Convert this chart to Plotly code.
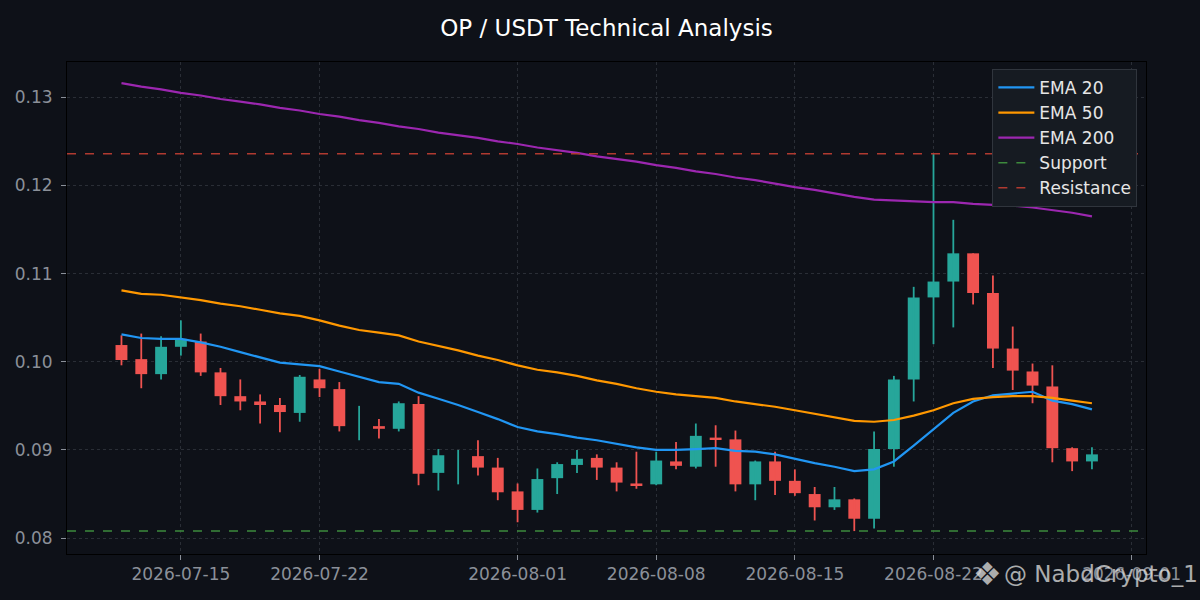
import pandas as pd
import plotly.graph_objects as go

# daily candles, 2026-07-12 .. 2026-08-30
dates = pd.date_range("2026-07-12", periods=50, freq="D")

opens = [0.1019, 0.1003, 0.0986, 0.1017, 0.1023, 0.0988, 0.0961, 0.0955, 0.0951, 0.0942,
         0.0980, 0.0969, 0.0927, 0.0927, 0.0924, 0.0952, 0.0874, 0.0880, 0.0893, 0.0880,
         0.0853, 0.0832, 0.0868, 0.0883, 0.0891, 0.0880, 0.0862, 0.0861, 0.0887, 0.0881,
         0.0914, 0.0912, 0.0861, 0.0887, 0.0865, 0.0850, 0.0835, 0.0844, 0.0822, 0.0901,
         0.0980, 0.1073, 0.1091, 0.1123, 0.1078, 0.1015, 0.0989, 0.0972, 0.0902, 0.0887]
highs = [0.1030, 0.1032, 0.1029, 0.1047, 0.1032, 0.0993, 0.0980, 0.0963, 0.0959, 0.0985,
         0.0992, 0.0977, 0.0950, 0.0935, 0.0955, 0.0961, 0.0901, 0.0900, 0.0911, 0.0891,
         0.0862, 0.0879, 0.0886, 0.0900, 0.0895, 0.0886, 0.0898, 0.0898, 0.0909, 0.0930,
         0.0928, 0.0922, 0.0888, 0.0898, 0.0878, 0.0858, 0.0858, 0.0845, 0.0921, 0.0984,
         0.1085, 0.1236, 0.1161, 0.1123, 0.1098, 0.1040, 0.0998, 0.0996, 0.0903, 0.0903]
lows = [0.0996, 0.0970, 0.0980, 0.1007, 0.0984, 0.0951, 0.0945, 0.0930, 0.0920, 0.0932,
        0.0960, 0.0921, 0.0911, 0.0913, 0.0921, 0.0860, 0.0854, 0.0861, 0.0871, 0.0843,
        0.0818, 0.0829, 0.0850, 0.0874, 0.0866, 0.0853, 0.0856, 0.0860, 0.0878, 0.0879,
        0.0881, 0.0853, 0.0843, 0.0849, 0.0848, 0.0820, 0.0832, 0.0808, 0.0811, 0.0881,
        0.0955, 0.1020, 0.1039, 0.1065, 0.0993, 0.0968, 0.0953, 0.0886, 0.0876, 0.0878]
closes = [0.1002, 0.0986, 0.1017, 0.1026, 0.0988, 0.0961, 0.0955, 0.0951, 0.0943, 0.0983,
          0.0970, 0.0927, 0.0927, 0.0924, 0.0953, 0.0873, 0.0894, 0.0880, 0.0880, 0.0852,
          0.0832, 0.0867, 0.0884, 0.0890, 0.0880, 0.0863, 0.0860, 0.0888, 0.0882, 0.0916,
          0.0912, 0.0861, 0.0887, 0.0865, 0.0851, 0.0835, 0.0844, 0.0822, 0.0901, 0.0980,
          0.1073, 0.1091, 0.1123, 0.1078, 0.1015, 0.0990, 0.0973, 0.0902, 0.0887, 0.0895]

ema20 = [0.1031, 0.1027, 0.1026, 0.1026, 0.1022, 0.1017, 0.1011, 0.1005, 0.0999, 0.0997,
         0.0995, 0.0989, 0.0983, 0.0977, 0.0975, 0.0965, 0.0958, 0.0951, 0.0943, 0.0935,
         0.0926, 0.0921, 0.0918, 0.0914, 0.0911, 0.0907, 0.0903, 0.0900, 0.0900, 0.0901,
         0.0902, 0.0899, 0.0898, 0.0895, 0.0890, 0.0885, 0.0881, 0.0876, 0.0878, 0.0887,
         0.0905, 0.0924, 0.0942, 0.0955, 0.0962, 0.0964, 0.0966, 0.0956, 0.0952, 0.0946]
ema50 = [0.1081, 0.1077, 0.1076, 0.1073, 0.1070, 0.1066, 0.1063, 0.1059, 0.1055, 0.1052,
         0.1047, 0.1041, 0.1036, 0.1033, 0.1030, 0.1023, 0.1018, 0.1013, 0.1007, 0.1002,
         0.0996, 0.0991, 0.0988, 0.0984, 0.0979, 0.0975, 0.0970, 0.0966, 0.0963, 0.0961,
         0.0959, 0.0955, 0.0952, 0.0949, 0.0945, 0.0941, 0.0937, 0.0933, 0.0932, 0.0934,
         0.0939, 0.0945, 0.0953, 0.0958, 0.0960, 0.0961, 0.0961, 0.0959, 0.0956, 0.0953]
ema200 = [0.1316, 0.1312, 0.1309, 0.1305, 0.1302, 0.1298, 0.1295, 0.1292, 0.1288, 0.1285,
          0.1281, 0.1278, 0.1274, 0.1271, 0.1267, 0.1264, 0.1260, 0.1257, 0.1254, 0.1250,
          0.1247, 0.1243, 0.1240, 0.1237, 0.1233, 0.1230, 0.1227, 0.1223, 0.1220, 0.1216,
          0.1213, 0.1209, 0.1206, 0.1202, 0.1198, 0.1195, 0.1191, 0.1187, 0.1184, 0.1183,
          0.1182, 0.1181, 0.1181, 0.1179, 0.1178, 0.1177, 0.1175, 0.1172, 0.1169, 0.1165]

support = 0.0808
resistance = 0.1236

x_ticks = ["2026-07-15", "2026-07-22", "2026-08-01", "2026-08-08",
           "2026-08-15", "2026-08-22", "2026-09-01"]

UP = "#26a69a"
DOWN = "#ef5350"
BG = "#0e1118"
TICK = "#8b9099"
FONT = "DejaVu Sans"

fig = go.Figure()

# candle bodies
is_up = [c >= o for o, c in zip(opens, closes)]
body_base = [min(o, c) for o, c in zip(opens, closes)]
body_h = [abs(c - o) for o, c in zip(opens, closes)]
fig.add_trace(go.Bar(
    x=dates, y=body_h, base=body_base,
    width=0.6 * 86400000,
    marker=dict(color=[UP if u else DOWN for u in is_up], line=dict(width=0)),
    showlegend=False, hoverinfo="skip",
))

# wicks, one trace per colour
for flag, col in [(True, UP), (False, DOWN)]:
    wx, wy = [], []
    for d, h, l, u in zip(dates, highs, lows, is_up):
        if u == flag:
            wx += [d, d, None]
            wy += [l, h, None]
    fig.add_trace(go.Scatter(x=wx, y=wy, mode="lines",
                             line=dict(color=col, width=1.8),
                             showlegend=False, hoverinfo="skip"))

fig.add_trace(go.Scatter(x=dates, y=ema20, mode="lines", name="EMA 20",
                         line=dict(color="#2196f3", width=2.2)))
fig.add_trace(go.Scatter(x=dates, y=ema50, mode="lines", name="EMA 50",
                         line=dict(color="#ff9800", width=2.2)))
fig.add_trace(go.Scatter(x=dates, y=ema200, mode="lines", name="EMA 200",
                         line=dict(color="#9c27b0", width=2.2)))

# horizontal levels + legend entries
for lvl, col, nm in [(support, "#3d8a3d", "Support"), (resistance, "#b03a30", "Resistance")]:
    fig.add_hline(y=lvl, line=dict(color=col, width=1.5, dash="dash"))
    fig.add_trace(go.Scatter(x=[None], y=[None], mode="lines", name=nm,
                             line=dict(color=col, width=1.5, dash="dash")))

fig.update_layout(
    width=1200, height=600,
    paper_bgcolor=BG, plot_bgcolor=BG,
    margin=dict(l=67, r=54, t=62, b=46),
    barmode="overlay",
    font=dict(family=FONT, color=TICK, size=17),
    title=dict(text="OP / USDT Technical Analysis", x=0.5, xref="paper",
               y=1 - 28 / 600, yref="container", yanchor="middle",
               font=dict(family=FONT, size=23, color="#ffffff")),
    legend=dict(x=0.992, y=0.986, xanchor="right", yanchor="top",
                bgcolor="#161b22", bordercolor="#30353d", borderwidth=1,
                itemwidth=36,
                font=dict(family=FONT, size=17, color="#e6e6e6")),
    showlegend=True,
)
fig.update_xaxes(
    type="date", range=["2026-07-09 06:00", "2026-09-01 17:30"],
    tickvals=x_ticks, tickformat="%Y-%m-%d",
    showgrid=True, gridcolor="#2a2e36", griddash="dot", gridwidth=1,
    ticks="outside", ticklen=5, tickcolor=TICK, ticklabelstandoff=0,
    tickfont=dict(size=17, color=TICK),
    showline=True, linecolor="#000000", mirror=True, zeroline=False,
)
fig.update_yaxes(
    range=[0.0782, 0.1340], dtick=0.01, tick0=0, tickformat=".2f",
    showgrid=True, gridcolor="#2a2e36", griddash="dot", gridwidth=1,
    ticks="outside", ticklen=5, tickcolor=TICK, ticklabelstandoff=5,
    tickfont=dict(size=17, color=TICK),
    showline=True, linecolor="#000000", mirror=True, zeroline=False,
)

# watermark
fig.add_annotation(text="❖", xref="paper", yref="paper", x=(1004 - 67) / 1079,
                   y=-0.04, yanchor="middle", showarrow=False,
                   font=dict(family=FONT, size=32, color="rgba(225,225,225,0.75)"))
fig.add_annotation(text="@ NabdCrypto_1", xref="paper", yref="paper", x=(1002 - 67) / 1079,
                   y=-0.04, xanchor="left", yanchor="middle", showarrow=False,
                   font=dict(family=FONT, size=23, color="rgba(225,225,225,0.75)"))

fig.write_html("out.html", config={"displayModeBar": False},
               post_script="document.body.style.margin='0';")
